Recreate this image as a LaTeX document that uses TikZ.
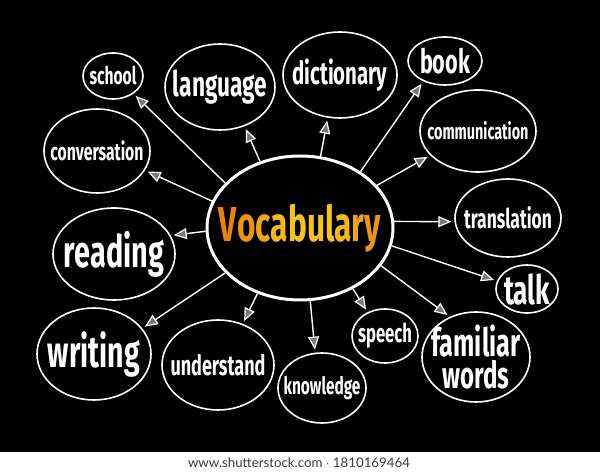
\documentclass[tikz,border=0pt]{standalone}
\usepackage{fontspec}
\setmainfont{Fira Sans}
\newfontfamily\stripfont{Lato}
\usetikzlibrary{shapes.geometric,arrows.meta}
\newcommand{\wtxt}[2]{\resizebox{#1pt}{!}{\scalebox{1}[1.55]{\bfseries #2}}}
\definecolor{vA}{RGB}{232,132,14}
\definecolor{vB}{RGB}{237,148,18}
\definecolor{vC}{RGB}{241,165,22}
\definecolor{vD}{RGB}{244,184,28}
\definecolor{vE}{RGB}{246,196,32}
\definecolor{stripgray}{RGB}{60,60,60}
\definecolor{tipgray}{RGB}{120,120,120}
\begin{document}
\begin{tikzpicture}[x=1pt,y=1pt,
  bub/.style={ellipse, draw=white, line width=1.6pt, inner sep=0pt},
  hub/.style={ellipse, draw=white, line width=3pt, inner sep=0pt},
  lbl/.style={text=white, inner sep=0pt, align=center},
  arr/.style={draw=white, line width=1.4pt, -{Triangle[fill=tipgray, length=13pt, width=11pt, line width=1.2pt]}, shorten >=3pt},
]
\fill[black] (0,21) rectangle (600,473);
\fill[white] (0,0) rectangle (600,21);
\useasboundingbox (0,0) rectangle (600,473);

\node[hub, minimum width=186pt, minimum height=144pt,
  label={[inner sep=0pt]center:\wtxt{162}{\textcolor{vA}{V}\textcolor{vB}{o}\textcolor{vC}{c}\textcolor{vD}{a}\textcolor{vE}{b}\textcolor{vE}{u}\textcolor{vE}{l}\textcolor{vD}{a}\textcolor{vC}{r}\textcolor{vB}{y}}}] (v) at (300,245) {};

\node[bub, minimum width=60pt, minimum height=46pt, label={[lbl]center:\wtxt{47}{school}}] (school) at (113,397) {};
\node[bub, minimum width=110pt, minimum height=86pt, label={[lbl]center:\wtxt{94}{language}}] (language) at (220,386) {};
\node[bub, minimum width=106pt, minimum height=84pt, label={[lbl]center:\wtxt{93}{conversation}}] (conversation) at (97,322) {};
\node[bub, minimum width=114pt, minimum height=86pt, label={[lbl]center:\wtxt{95}{dictionary}}] (dictionary) at (340,398) {};
\node[bub, minimum width=74pt, minimum height=48pt, label={[lbl]center:\wtxt{50}{book}}] (book) at (445,412) {};
\node[bub, minimum width=116pt, minimum height=82pt, label={[lbl]center:\wtxt{101}{communication}}] (communication) at (478,342) {};
\node[bub, minimum width=106pt, minimum height=78pt, label={[lbl]center:\wtxt{88}{translation}}] (translation) at (508,255) {};
\node[bub, minimum width=62pt, minimum height=48pt, label={[lbl]center:\wtxt{46}{talk}}] (talk) at (527,184) {};
\node[bub, minimum width=108pt, minimum height=90pt, label={[lbl]center:\wtxt{89}{familiar}\\[3pt]\wtxt{67}{words}}] (familiar) at (476,116) {};
\node[bub, minimum width=66pt, minimum height=54pt, label={[lbl]center:\wtxt{54}{speech}}] (speech) at (385,137) {};
\node[bub, minimum width=88pt, minimum height=70pt, label={[lbl]center:\wtxt{77}{knowledge}}] (knowledge) at (322,85) {};
\node[bub, minimum width=112pt, minimum height=90pt, label={[lbl]center:\wtxt{95}{understand}}] (understand) at (218,108) {};
\node[bub, minimum width=114pt, minimum height=92pt, label={[lbl]center:\wtxt{92}{writing}}] (writing) at (94,119) {};
\node[bub, minimum width=122pt, minimum height=92pt, label={[lbl]center:\wtxt{100}{reading}}] (reading) at (114,219) {};

\draw[arr] (v.149) -- (school.-41);
\draw[arr] (v.121) -- (language.-58);
\draw[arr] (v.163) -- (conversation.-22);
\draw[arr] (v.74) -- (dictionary.-106);
\draw[arr] (v.43) -- (book.-137);
\draw[arr] (v.29) -- (communication.-153);
\draw[arr] (v.4) -- (translation.-176);
\draw[arr] (v.-11) -- (talk.165);
\draw[arr] (v.-25) -- (familiar.123);
\draw[arr] (v.-49) -- (speech.126);
\draw[arr] (v.-82) -- (knowledge.101);
\draw[arr] (v.-123) -- (understand.59);
\draw[arr] (v.-149) -- (writing.28);
\draw[arr] (v.-178) -- (reading.18);

\node[text=stripgray, inner sep=0pt] (strip) at (299,10) {\resizebox{222pt}{!}{\stripfont www.shutterstock.com $\cdot$ 1810169464}};
\end{tikzpicture}
\end{document}
